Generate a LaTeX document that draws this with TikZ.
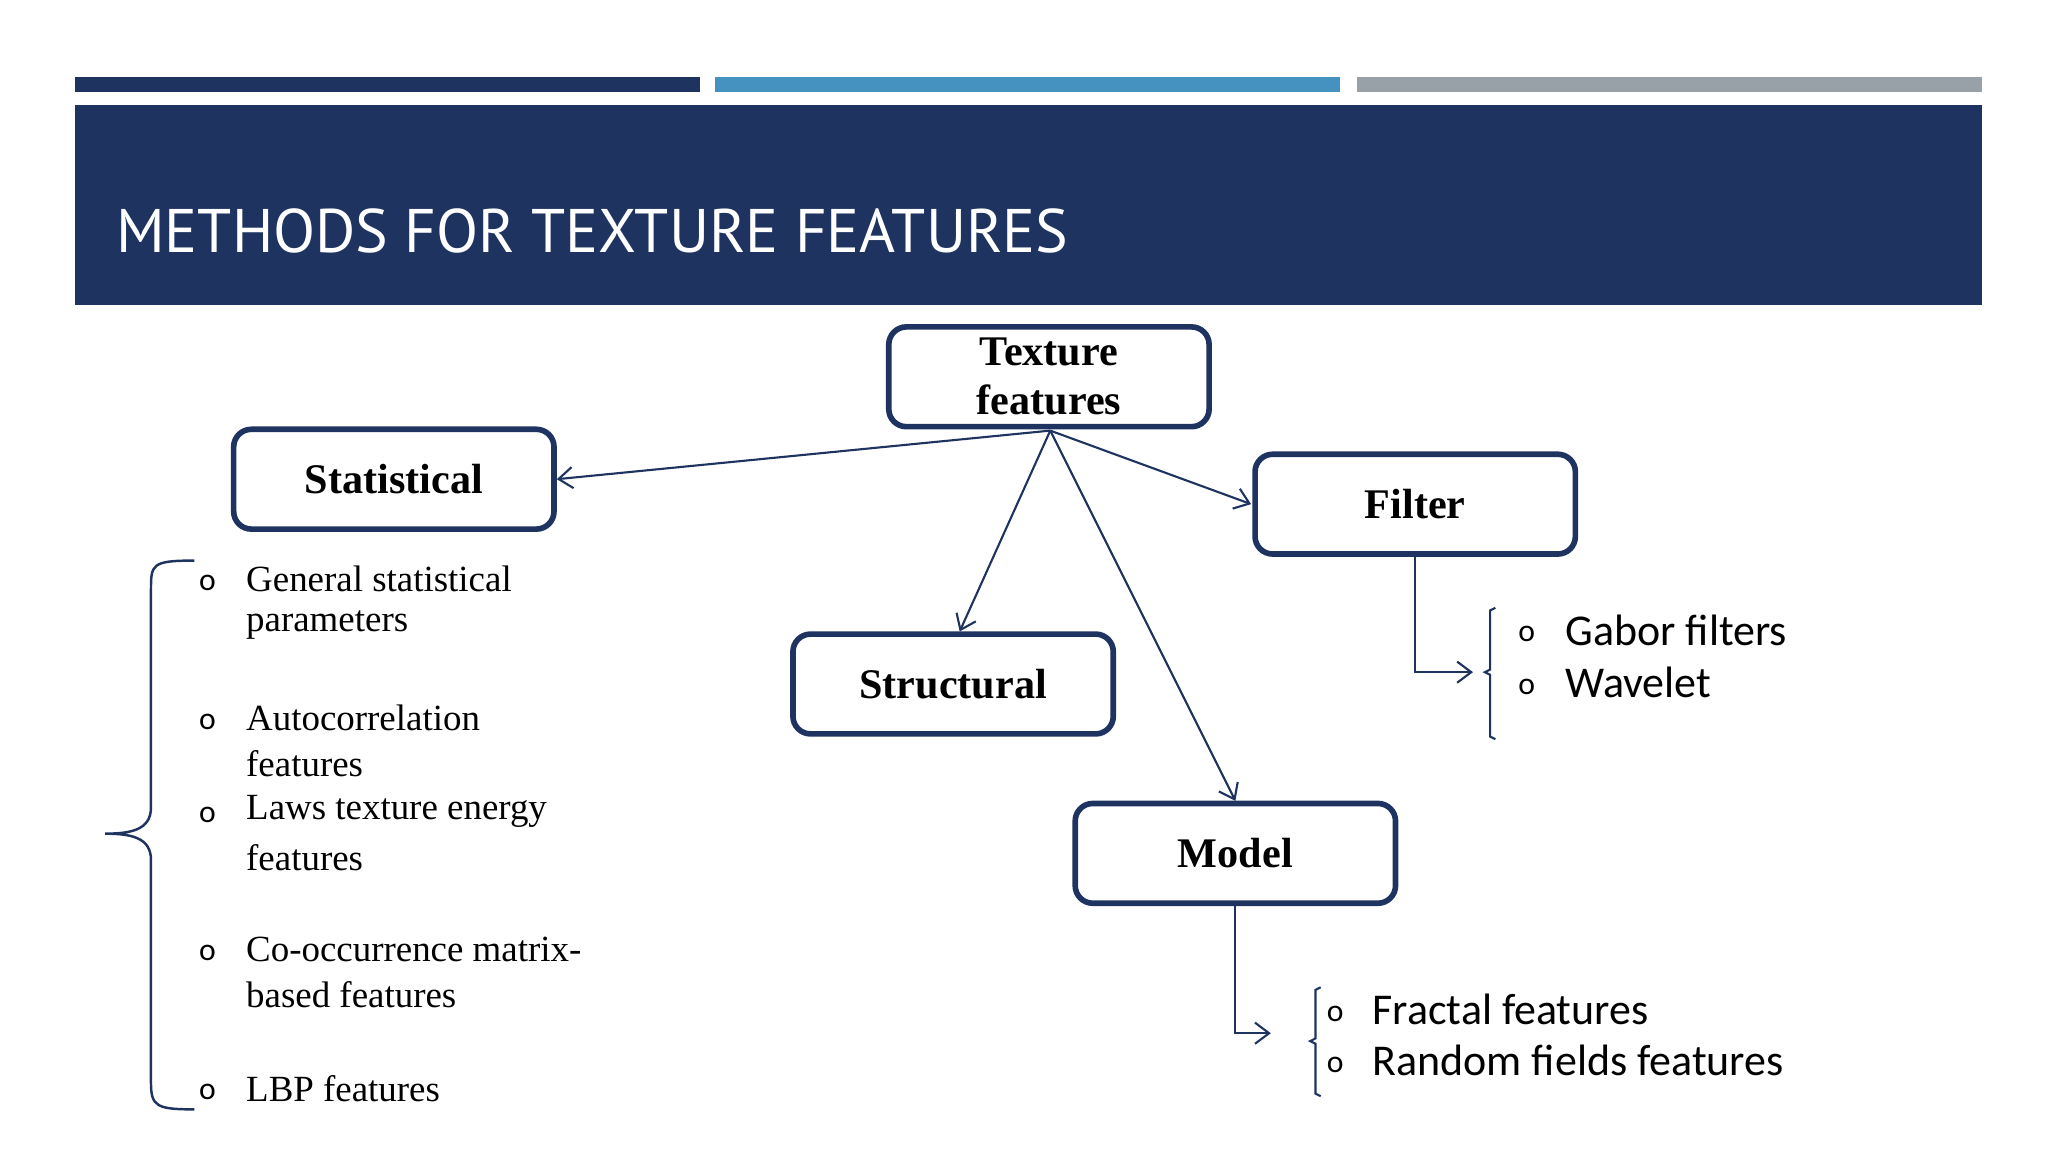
\documentclass[tikz,border=0pt]{standalone}
\usepackage{fontspec}
\setmainfont{Liberation Serif}
\newfontfamily\titlef{PT Sans}
\newfontfamily\calf{Carlito}
\usetikzlibrary{arrows.meta}
\definecolor{navy}{HTML}{1E3360}
\definecolor{lblue}{HTML}{4592C0}
\definecolor{lgray}{HTML}{98A0A8}
\begin{document}
\begin{tikzpicture}[x=0.013128cm,y=-0.013128cm,
  box/.style={draw=navy,line width=1.6pt,rounded corners=5pt,minimum width=244*0.013128cm,minimum height=76*0.013128cm,font=\fontsize{12}{14}\selectfont\bfseries,align=center,inner sep=1pt},
  arr/.style={navy,line width=0.6pt,-{Straight Barb[length=4pt,width=6pt]}},
  li/.style={anchor=west,inner sep=0,font=\fontsize{10.5}{12}\selectfont},
  ri/.style={anchor=west,inner sep=0,font=\calf\fontsize{12.5}{14}\selectfont},
  bul/.style={anchor=center,inner sep=0,font=\calf\fontsize{9}{10}\selectfont}]
\useasboundingbox (0,0) rectangle (1560,877.5);
\fill[navy] (57,59) rectangle (533,70);
\fill[lblue] (545,59) rectangle (1021,70);
\fill[lgray] (1034,59) rectangle (1510,70);
\fill[navy] (57,80) rectangle (1510,232);
\node[anchor=west,text=white,inner sep=0,font=\titlef\fontsize{17.5}{20}\selectfont] (title) at (88,176) {METHODS FOR TEXTURE FEATURES};
\node[box] (tex) at (799,287) {Texture\\features};
\node[box] (stat) at (300,365) {Statistical};
\node[box] (filt) at (1078,384) {Filter};
\node[box] (struc) at (726,521) {Structural};
\node[box] (model) at (941,650) {Model};
\coordinate (src) at (800,328);
\draw[arr] (src) -- (stat.east);
\draw[arr] (src) -- (953,384) coordinate (fe);
\draw[arr] (src) -- (731,481) coordinate (se);
\draw[arr] (src) -- (941,610) coordinate (me);
\coordinate (fa) at (1122,512);
\draw[arr] (filt.south) |- (fa);
\coordinate (ma) at (968,787);
\draw[arr] (model.south) |- (ma);
% brackets
\draw[navy,line width=0.6pt] (1139,463) -- (1135,465) -- (1135,510) -- (1131,512) -- (1135,514) -- (1135,561) -- (1139,563);
\draw[navy,line width=0.6pt] (1006,752) -- (1002,754) -- (1002,791) -- (998,793) -- (1002,795) -- (1002,833) -- (1006,835);
\draw[navy,line width=0.7pt] (148,427) .. controls (115,427) and (115,430) .. (115,450) -- (115,615) .. controls (115,632) and (100,635) .. (80,635) .. controls (100,635) and (115,638) .. (115,655) -- (115,825) .. controls (115,843) and (120,845) .. (148,845);
\foreach \y/\t in {480/Gabor filters,520/Wavelet}{\node[bul] at (1163,\y+3) {o}; \node[ri] at (1192,\y) {\t};}
\foreach \y/\t in {769/Fractal features,808/Random fields features}{\node[bul] at (1017,\y+3) {o}; \node[ri] at (1045,\y) {\t};}
\foreach \y in {441,547,618,723,829}{\node[bul] at (158,\y+3) {o};}
\foreach \y/\t in {441/General statistical,476/parameters,547/Autocorrelation,582/features,618/Laws texture energy,653/features,723/Co-occurrence matrix-,758/based features,829/LBP features}{\node[li] at (187,\y) {\t};}
\end{tikzpicture}
\end{document}
